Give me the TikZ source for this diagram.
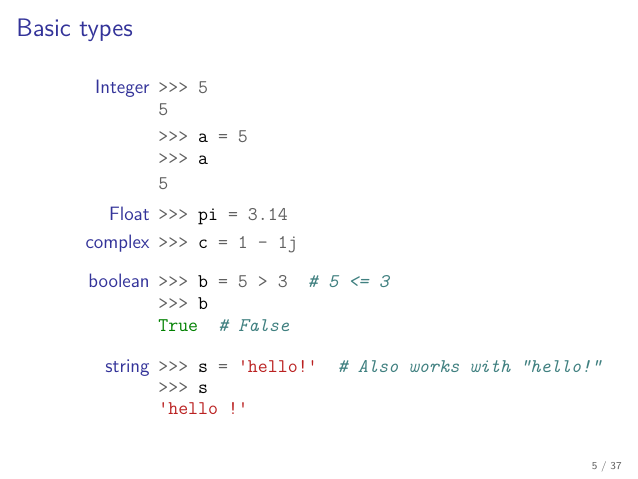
\documentclass[tikz,border=0pt]{standalone}
\usepackage{fontspec}
\definecolor{bb}{RGB}{51,51,153}
\definecolor{cg}{RGB}{96,96,96}
\definecolor{cm}{RGB}{64,128,128}
\definecolor{cs}{RGB}{186,33,33}
\definecolor{ct}{RGB}{0,128,0}
\newcommand{\K}[1]{\textcolor{black}{#1}}
\newcommand{\C}[1]{\textcolor{cm}{\itshape #1}}
\newcommand{\Str}[1]{\textcolor{cs}{#1}}
\begin{document}
\begin{tikzpicture}[x=0.5689pt,y=-0.5689pt,
 lab/.style={anchor=base east,inner sep=0,text=bb,font=\sffamily\fontsize{11}{13}\selectfont},
 code/.style={anchor=base west,inner sep=0,text=cg,font=\ttfamily\fontsize{11}{13}\selectfont}]
\useasboundingbox (0,0) rectangle (638,479);
\node[anchor=base west,inner sep=0,text=bb,font=\sffamily\fontsize{14.4}{17}\selectfont] (t) at (16,37) {Basic types};
\node[lab] (l1) at (150,94) {Integer};
\node[code] (c1) at (158,94) {>>> 5};
\node[code] (c2) at (158,116) {5};
\node[code] (c3) at (158,143) {>>> \K{a} = 5};
\node[code] (c4) at (158,165) {>>> \K{a}};
\node[code] (c5) at (158,190) {5};
\node[lab] (l2) at (150,221) {Float};
\node[code] (c6) at (158,221) {>>> \K{pi} = 3.14};
\node[lab] (l3) at (150,249) {complex};
\node[code] (c7) at (158,249) {>>> \K{c} = 1 - 1j};
\node[lab] (l4) at (150,288) {boolean};
\node[code] (c8) at (158,288) {>>> \K{b} = 5 > 3\ \ \C{\# 5 <= 3}};
\node[code] (c9) at (158,310) {>>> \K{b}};
\node[code] (c10) at (158,332) {\textcolor{ct}{True}\ \ \C{\# False}};
\node[lab] (l5) at (150,373) {string};
\node[code] (c11) at (158,373) {>>> \K{s} = \Str{'hello!'}\ \ \C{\# Also works with "hello!"}};
\node[code] (c12) at (158,394) {>>> \K{s}};
\node[code] (c13) at (158,415) {\Str{'hello !'}};
\node[anchor=base east,inner sep=0,text=cg,font=\sffamily\fontsize{6}{7}\selectfont] (pg) at (622,470) {5 / 37};
\end{tikzpicture}
\end{document}
